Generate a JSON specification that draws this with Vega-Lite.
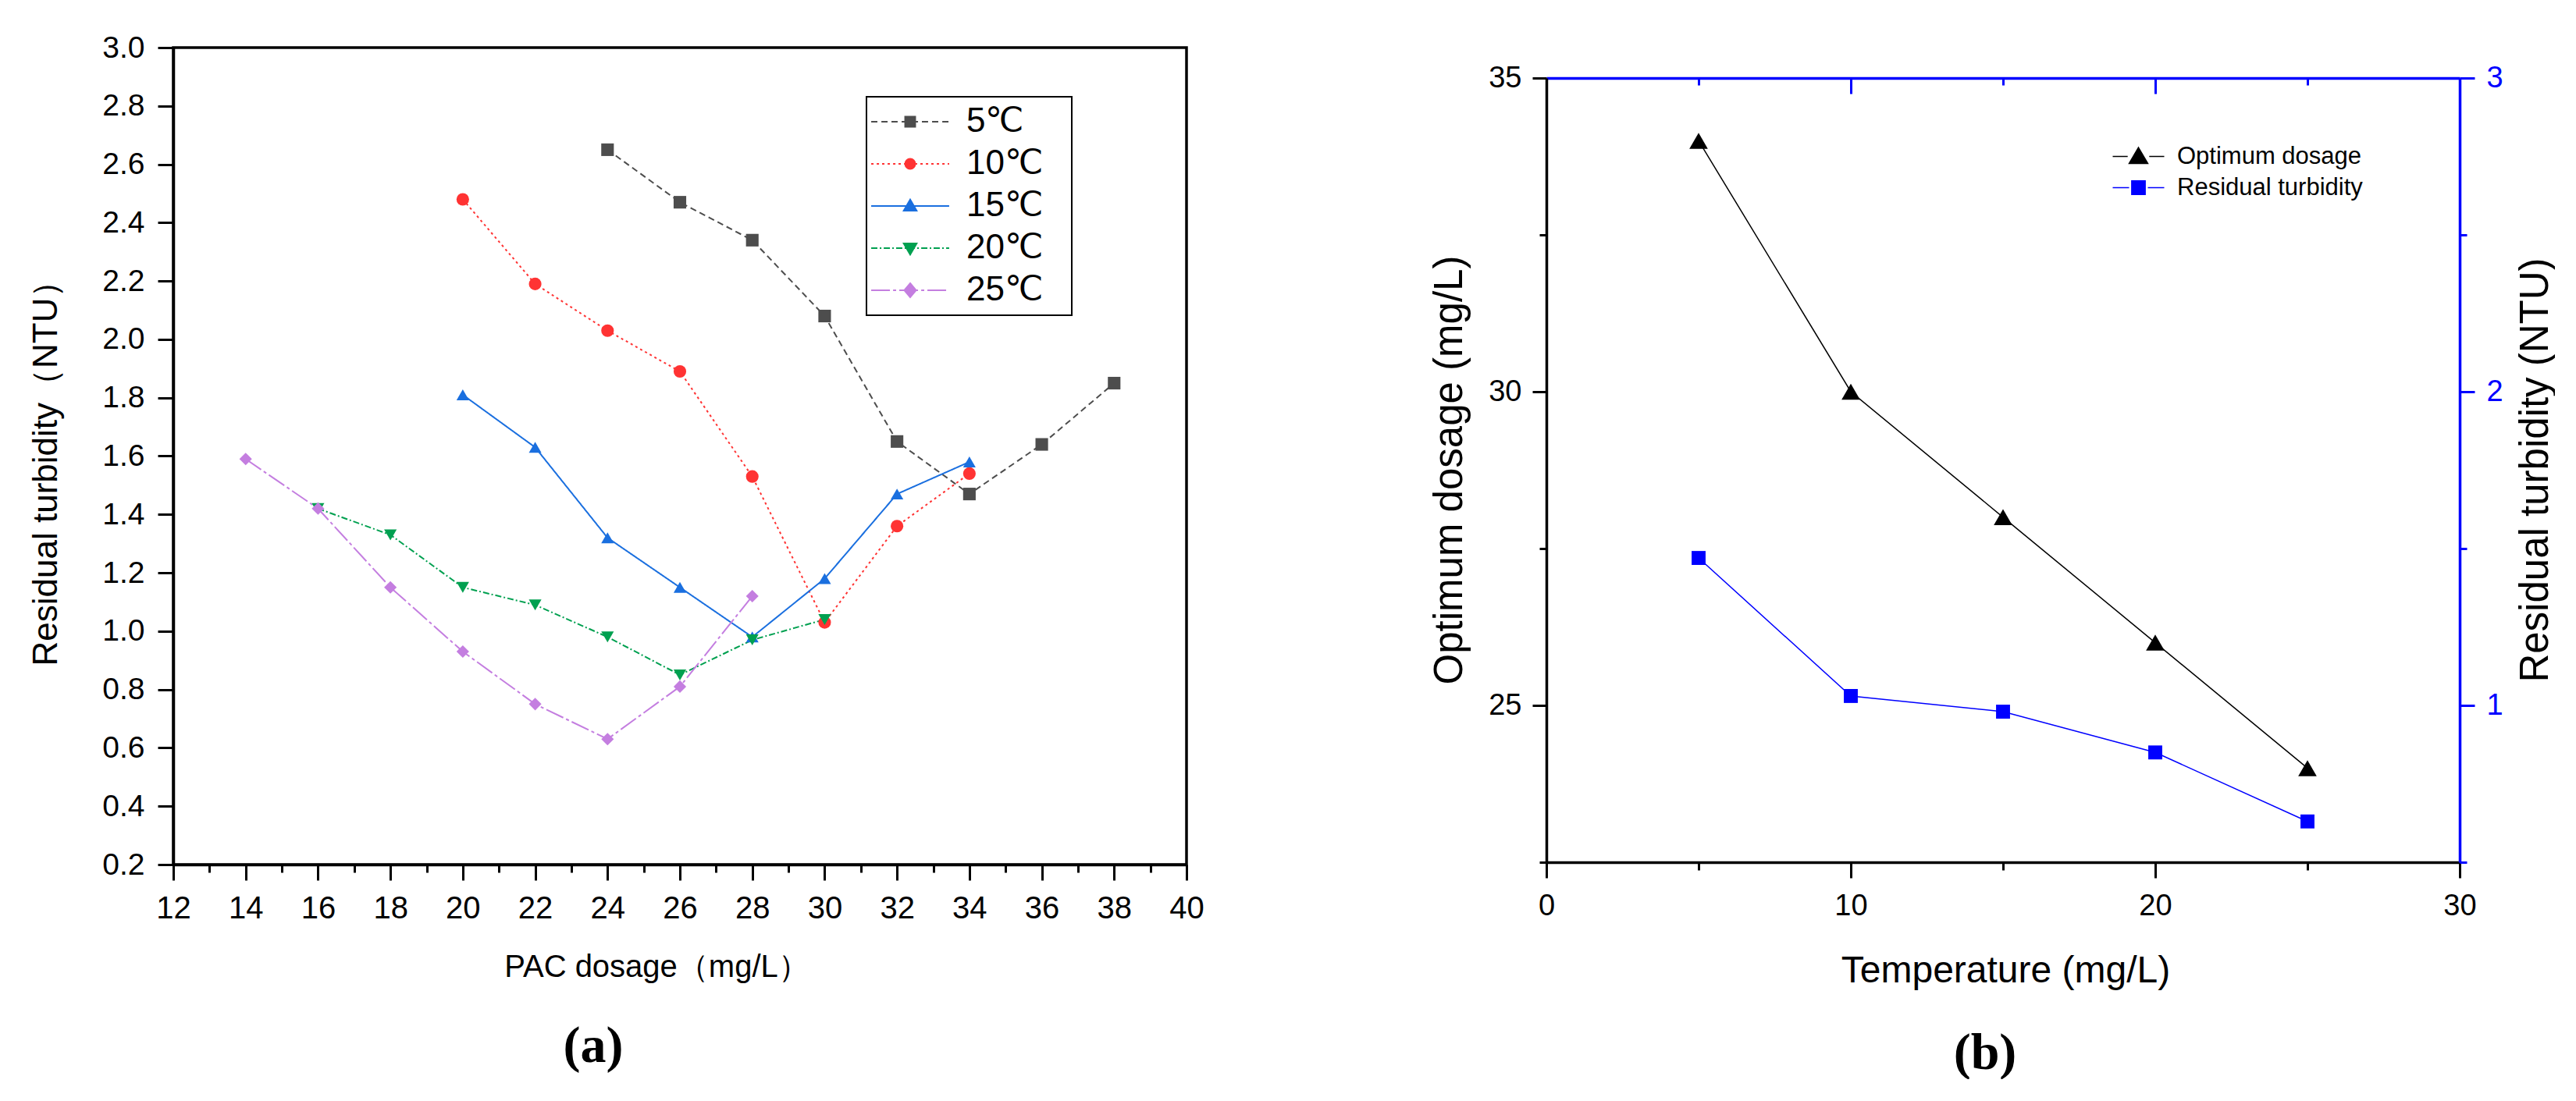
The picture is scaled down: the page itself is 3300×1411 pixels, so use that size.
{
  "background": "white",
  "padding": {"left": 35, "top": 40, "right": 0, "bottom": 0},
  "autosize": {"type": "pad"},
  "bounds": "flush",
  "spacing": 461,
  "datasets": {
    "a": [
      {"series": "5℃", "dose": 24, "turb": 2.65}, {"series": "5℃", "dose": 26, "turb": 2.47}, {"series": "5℃", "dose": 28, "turb": 2.34}, {"series": "5℃", "dose": 30, "turb": 2.08}, {"series": "5℃", "dose": 32, "turb": 1.65}, {"series": "5℃", "dose": 34, "turb": 1.47}, {"series": "5℃", "dose": 36, "turb": 1.64}, {"series": "5℃", "dose": 38, "turb": 1.85},
      {"series": "10℃", "dose": 20, "turb": 2.48}, {"series": "10℃", "dose": 22, "turb": 2.19}, {"series": "10℃", "dose": 24, "turb": 2.03}, {"series": "10℃", "dose": 26, "turb": 1.89}, {"series": "10℃", "dose": 28, "turb": 1.53}, {"series": "10℃", "dose": 30, "turb": 1.03}, {"series": "10℃", "dose": 32, "turb": 1.36}, {"series": "10℃", "dose": 34, "turb": 1.54},
      {"series": "15℃", "dose": 20, "turb": 1.81}, {"series": "15℃", "dose": 22, "turb": 1.63}, {"series": "15℃", "dose": 24, "turb": 1.32}, {"series": "15℃", "dose": 26, "turb": 1.15}, {"series": "15℃", "dose": 28, "turb": 0.98}, {"series": "15℃", "dose": 30, "turb": 1.18}, {"series": "15℃", "dose": 32, "turb": 1.47}, {"series": "15℃", "dose": 34, "turb": 1.58},
      {"series": "20℃", "dose": 16, "turb": 1.42}, {"series": "20℃", "dose": 18, "turb": 1.33}, {"series": "20℃", "dose": 20, "turb": 1.15}, {"series": "20℃", "dose": 22, "turb": 1.09}, {"series": "20℃", "dose": 24, "turb": 0.98}, {"series": "20℃", "dose": 26, "turb": 0.85}, {"series": "20℃", "dose": 28, "turb": 0.97}, {"series": "20℃", "dose": 30, "turb": 1.04},
      {"series": "25℃", "dose": 14, "turb": 1.59}, {"series": "25℃", "dose": 16, "turb": 1.42}, {"series": "25℃", "dose": 18, "turb": 1.15}, {"series": "25℃", "dose": 20, "turb": 0.93}, {"series": "25℃", "dose": 22, "turb": 0.75}, {"series": "25℃", "dose": 24, "turb": 0.63}, {"series": "25℃", "dose": 26, "turb": 0.81}, {"series": "25℃", "dose": 28, "turb": 1.12}
    ],
    "b": [
      {"temp": 5, "dosage": 34, "turbidity": 1.47},
      {"temp": 10, "dosage": 30, "turbidity": 1.03},
      {"temp": 15, "dosage": 28, "turbidity": 0.98},
      {"temp": 20, "dosage": 26, "turbidity": 0.85},
      {"temp": 25, "dosage": 24, "turbidity": 0.63}
    ]
  },
  "hconcat": [
    {
      "width": 1298,
      "height": 1047,
      "data": {"name": "a"},
      "view": {"stroke": "black", "strokeWidth": 3.5},
      "title": {"text": "(a)", "orient": "bottom", "anchor": "middle", "dx": -111, "offset": 50, "font": "Liberation Serif", "fontSize": 66, "fontWeight": "bold", "color": "black"},
      "layer": [
        {
          "mark": {"type": "line", "strokeWidth": 2},
          "encoding": {
            "x": {"field": "dose", "type": "quantitative", "scale": {"domain": [12, 40], "nice": false, "zero": false},
              "axis": {"values": [12,13,14,15,16,17,18,19,20,21,22,23,24,25,26,27,28,29,30,31,32,33,34,35,36,37,38,39,40], "format": "d",
                "labelExpr": "datum.value % 2 === 0 ? datum.label : ''",
                "tickSize": {"condition": {"test": "datum.value % 2 !== 0", "value": 10}, "value": 20},
                "tickWidth": 3, "tickColor": "black", "domainColor": "black", "domainWidth": 3.5,
                "labelFont": "Liberation Sans", "labelFontSize": 40, "labelColor": "black", "labelBaseline": "alphabetic", "labelPadding": 48, "labelOverlap": false, "labelFlush": false, "grid": false,
                "title": "PAC dosage（mg/L）", "titleFont": "Liberation Sans", "titleFontSize": 40, "titleFontWeight": "normal", "titleColor": "black", "titleX": 619, "titleY": 143, "titleBaseline": "alphabetic", "titleAlign": "center"}},
            "y": {"field": "turb", "type": "quantitative", "scale": {"domain": [0.2, 3.0], "nice": false, "zero": false},
              "axis": {"values": [0.2,0.3,0.4,0.5,0.6,0.7,0.8,0.9,1.0,1.1,1.2,1.3,1.4,1.5,1.6,1.7,1.8,1.9,2.0,2.1,2.2,2.3,2.4,2.5,2.6,2.7,2.8,2.9,3.0], "format": ".1f",
                "labelExpr": "round(datum.value*10) % 2 === 0 ? datum.label : ''",
                "tickSize": {"condition": {"test": "round(datum.value*10) % 2 !== 0", "value": 10}, "value": 20},
                "tickWidth": 3, "tickColor": "black", "domainColor": "black", "domainWidth": 3.5,
                "labelFont": "Liberation Sans", "labelFontSize": 39, "labelColor": "black", "labelPadding": 17, "labelOverlap": false, "labelFlush": false, "grid": false,
                "title": "Residual turbidity（NTU）", "titleFont": "Liberation Sans", "titleFontSize": 44, "titleFontWeight": "normal", "titleColor": "black", "titleX": -163, "titleY": 534, "titleBaseline": "middle", "titleAlign": "center"}},
            "color": {"field": "series", "type": "nominal", "sort": ["5℃","10℃","15℃","20℃","25℃"], "scale": {"range": ["#4d4d4d","#ff3333","#1a6fdf","#00a050","#c47ee0"]}, "legend": null},
            "strokeDash": {"field": "series", "type": "nominal", "sort": ["5℃","10℃","15℃","20℃","25℃"], "scale": {"range": [[8,5],[3,4],[1,0],[8,3,2,3],[24,4,4,4]]}, "legend": null}
          }
        },
        {
          "mark": {"type": "point", "filled": true, "size": 260, "opacity": 1,
            "shape": {"expr": "datum.series === '5℃' ? 'square' : datum.series === '10℃' ? 'circle' : datum.series === '15℃' ? 'triangle-up' : datum.series === '20℃' ? 'triangle-down' : 'diamond'"}},
          "encoding": {
            "x": {"field": "dose", "type": "quantitative"},
            "y": {"field": "turb", "type": "quantitative"},
            "color": {"field": "series", "type": "nominal", "sort": ["5℃","10℃","15℃","20℃","25℃"], "legend": null}
          }
        },
        {
          "transform": [{"filter": "false"}],
          "mark": {"type": "point", "filled": true, "size": 900, "opacity": 1, "strokeWidth": 2},
          "encoding": {
            "fill": {"field": "series", "type": "nominal", "scale": {"domain": ["5℃","10℃","15℃","20℃","25℃"], "range": ["#4d4d4d","#ff3333","#1a6fdf","#00a050","#c47ee0"]},
              "legend": {"orient": "none", "legendX": 888, "legendY": 63, "title": null, "padding": 10, "rowPadding": 10, "strokeColor": "black", "cornerRadius": 0, "symbolSize": 900, "symbolStrokeWidth": 2, "symbolOffset": 24, "labelOffset": 50, "labelLimit": 1000, "labelFont": "Liberation Sans", "labelFontSize": 44, "labelColor": "black", "labelExpr": "datum.label + '\u2800'"}},
            "stroke": {"field": "series", "type": "nominal", "scale": {"domain": ["5℃","10℃","15℃","20℃","25℃"], "range": ["#4d4d4d","#ff3333","#1a6fdf","#00a050","#c47ee0"]},
              "legend": {"orient": "none", "legendX": 888, "legendY": 63, "title": null, "padding": 10, "rowPadding": 10, "strokeColor": "black", "cornerRadius": 0, "symbolSize": 900, "symbolStrokeWidth": 2, "symbolOffset": 24, "labelOffset": 50, "labelLimit": 1000, "labelFont": "Liberation Sans", "labelFontSize": 44, "labelColor": "black", "labelExpr": "datum.label + '\u2800'"}},
            "shape": {"field": "series", "type": "nominal", "scale": {"domain": ["5℃","10℃","15℃","20℃","25℃"], "range": [
                "M-3.33,0H-2.8M-2.46,0H-1.93M-1.6,0H-1.07M-0.73,0H-0.2M0.14,0H0.67M1,0H1.53M1.87,0H2.4M2.74,0H3.27M-0.43,-0.43H0.43V0.43H-0.43Z",
                "M-3.33,0H-3.13M-2.86,0H-2.66M-2.4,0H-2.2M-1.93,0H-1.73M-1.46,0H-1.26M-1,0H-0.8M-0.53,0H-0.33M-0.06,0H0.14M0.4,0H0.6M0.87,0H1.07M1.34,0H1.54M1.8,0H2M2.27,0H2.47M2.74,0H2.94M3.2,0H3.33M0.43,0A0.43,0.43,0,1,1,-0.43,0A0.43,0.43,0,1,1,0.43,0Z",
                "M-3.33,0H3.33M0,-0.55L0.55,0.4H-0.55Z",
                "M-3.33,0H-2.8M-2.6,0H-2.46M-2.26,0H-1.73M-1.53,0H-1.4M-1.2,0H-0.67M-0.47,0H-0.33M-0.13,0H0.4M0.6,0H0.74M0.94,0H1.47M1.67,0H1.8M2,0H2.53M2.73,0H2.87M3.07,0H3.33M0,0.55L0.55,-0.4H-0.55Z",
                "M-3.33,0H-1.73M-1.46,0H-1.2M-0.93,0H0.67M0.94,0H1.2M1.47,0H3.07M0,-0.6L0.5,0L0,0.6L-0.5,0Z"]},
              "legend": {"orient": "none", "legendX": 888, "legendY": 63, "title": null, "padding": 10, "rowPadding": 10, "strokeColor": "black", "cornerRadius": 0, "symbolSize": 900, "symbolStrokeWidth": 2, "symbolOffset": 24, "labelOffset": 50, "labelLimit": 1000, "labelFont": "Liberation Sans", "labelFontSize": 44, "labelColor": "black", "labelExpr": "datum.label + '\u2800'"}}
          }
        }
      ]
    },
    {
      "width": 1170,
      "height": 1044,
      "data": {"name": "b"},
      "view": {"stroke": null},
      "title": {"text": "(b)", "orient": "bottom", "anchor": "middle", "dx": -23, "offset": 50, "font": "Liberation Serif", "fontSize": 66, "fontWeight": "bold", "color": "black"},
      "layer": [
        {
          "mark": {"type": "line", "color": "black", "strokeWidth": 1.5, "point": {"shape": "triangle-up", "size": 560, "filled": true, "color": "black", "opacity": 1}},
          "encoding": {
            "x": {"field": "temp", "type": "quantitative", "scale": {"domain": [0, 30], "nice": false, "zero": false},
              "axis": {"orient": "bottom", "values": [0,5,10,15,20,25,30], "format": "d",
                "labelExpr": "datum.value % 10 === 0 ? datum.label : ''",
                "tickSize": {"condition": {"test": "datum.value % 10 !== 0", "value": 10}, "value": 20},
                "tickWidth": 3, "tickColor": "black", "domainColor": "black", "domainWidth": 3.5,
                "labelFont": "Liberation Sans", "labelFontSize": 38, "labelColor": "black", "labelBaseline": "alphabetic", "labelPadding": 47, "labelOverlap": false, "labelFlush": false, "grid": false,
                "title": "Temperature (mg/L)", "titleFont": "Liberation Sans", "titleFontSize": 48, "titleFontWeight": "normal", "titleColor": "black", "titleX": 588, "titleY": 153, "titleBaseline": "alphabetic", "titleAlign": "center"}},
            "y": {"field": "dosage", "type": "quantitative", "scale": {"domain": [22.5, 35], "nice": false, "zero": false, "range": [1044, 39]},
              "axis": {"orient": "left", "values": [22.5,25,27.5,30,32.5,35],
                "labelExpr": "datum.value % 5 === 0 ? format(datum.value, 'd') : ''",
                "tickSize": {"condition": {"test": "datum.value % 5 !== 0", "value": 9}, "value": 18},
                "tickWidth": 3, "tickColor": "black", "domainColor": "black", "domainWidth": 3.5,
                "labelFont": "Liberation Sans", "labelFontSize": 38, "labelColor": "black", "labelPadding": 14, "labelOverlap": false, "labelFlush": false, "grid": false,
                "title": "Optimum dosage (mg/L)", "titleFont": "Liberation Sans", "titleFontSize": 51, "titleFontWeight": "normal", "titleColor": "black", "titleX": -124, "titleY": 541, "titleBaseline": "middle", "titleAlign": "center"}}
          }
        },
        {
          "mark": {"type": "line", "color": "#0000ff", "strokeWidth": 1.5, "point": {"shape": "square", "size": 320, "filled": true, "color": "#0000ff", "opacity": 1}},
          "encoding": {
            "x": {"field": "temp", "type": "quantitative", "scale": {"domain": [0, 30], "nice": false, "zero": false},
              "axis": {"orient": "top", "offset": -39, "values": [0,5,10,15,20,25,30], "labels": false, "title": null,
                "tickSize": {"condition": {"test": "datum.value % 10 !== 0", "value": -9}, "value": -20},
                "tickWidth": 3, "tickColor": "#0000ff", "domainColor": "#0000ff", "domainWidth": 3.5, "grid": false}},
            "y": {"field": "turbidity", "type": "quantitative", "scale": {"domain": [0.5, 3], "nice": false, "zero": false, "range": [1044, 39]},
              "axis": {"orient": "right", "values": [0.5,1,1.5,2,2.5,3],
                "labelExpr": "datum.value % 1 === 0 ? format(datum.value, 'd') : ''",
                "tickSize": {"condition": {"test": "datum.value % 1 !== 0", "value": 9}, "value": 19},
                "tickWidth": 3, "tickColor": "#0000ff", "domainColor": "#0000ff", "domainWidth": 3.5,
                "labelFont": "Liberation Sans", "labelFontSize": 38, "labelColor": "#0000ff", "labelPadding": 15, "labelOverlap": false, "labelFlush": false, "grid": false,
                "title": "Residual turbidity (NTU)", "titleFont": "Liberation Sans", "titleFontSize": 51, "titleFontWeight": "normal", "titleColor": "black", "titleAngle": 270, "titleX": 97, "titleY": 541, "titleBaseline": "middle", "titleAlign": "center"}}
          }
        },
        {
          "transform": [{"filter": "false"}],
          "mark": {"type": "point", "filled": true, "size": 576, "opacity": 1, "strokeWidth": 1.5},
          "encoding": {
            "fill": {"field": "name", "type": "nominal", "scale": {"domain": ["Optimum dosage", "Residual turbidity"], "range": ["black", "#0000ff"]},
              "legend": {"orient": "none", "legendX": 743, "legendY": 124, "title": null, "padding": 0, "rowPadding": 8, "symbolSize": 576, "symbolStrokeWidth": 1.5, "symbolOffset": 0, "labelOffset": 34, "labelLimit": 1000, "labelFont": "Liberation Sans", "labelFontSize": 31, "labelColor": "black"}},
            "stroke": {"field": "name", "type": "nominal", "scale": {"domain": ["Optimum dosage", "Residual turbidity"], "range": ["black", "#0000ff"]},
              "legend": {"orient": "none", "legendX": 743, "legendY": 124, "title": null, "padding": 0, "rowPadding": 8, "symbolSize": 576, "symbolStrokeWidth": 1.5, "symbolOffset": 0, "labelOffset": 34, "labelLimit": 1000, "labelFont": "Liberation Sans", "labelFontSize": 31, "labelColor": "black"}},
            "shape": {"field": "name", "type": "nominal", "scale": {"domain": ["Optimum dosage", "Residual turbidity"], "range": [
                "M-2.75,0H-1.15M1.15,0H2.75M0,-0.95L1,0.75H-1Z",
                "M-2.75,0H-1M1,0H2.75M-0.72,-0.72H0.72V0.72H-0.72Z"]},
              "legend": {"orient": "none", "legendX": 743, "legendY": 124, "title": null, "padding": 0, "rowPadding": 8, "symbolSize": 576, "symbolStrokeWidth": 1.5, "symbolOffset": 0, "labelOffset": 34, "labelLimit": 1000, "labelFont": "Liberation Sans", "labelFontSize": 31, "labelColor": "black"}}
          }
        }
      ],
      "resolve": {"scale": {"y": "independent"}, "axis": {"x": "independent", "y": "independent"}}
    }
  ],
  "resolve": {
    "scale": {"color": "independent", "fill": "independent", "stroke": "independent", "shape": "independent", "strokeDash": "independent"},
    "legend": {"color": "independent", "fill": "independent", "stroke": "independent", "shape": "independent", "strokeDash": "independent"}
  },
  "config": {
    "font": "Liberation Sans",
    "axis": {"labelFont": "Liberation Sans", "titleFont": "Liberation Sans", "titleFontWeight": "normal"},
    "legend": {"strokeWidth": 2}
  }
}
